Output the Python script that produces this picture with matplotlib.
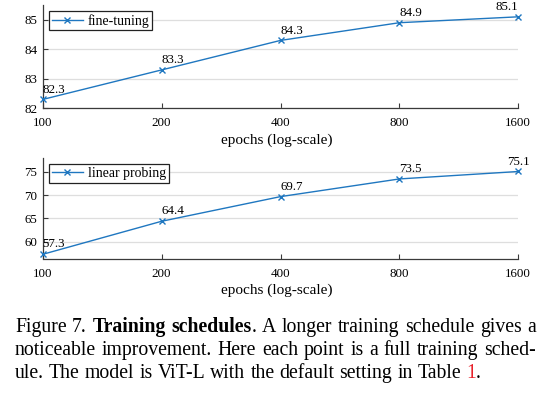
import matplotlib
matplotlib.use("Agg")
import matplotlib.pyplot as plt

plt.rcParams['font.family'] = ['Liberation Serif', 'DejaVu Serif']
plt.rcParams['mathtext.fontset'] = 'stix'

epochs = [100, 200, 400, 800, 1600]
epoch_labels = ["100", "200", "400", "800", "1600"]
fine_tuning = [82.3, 83.3, 84.3, 84.9, 85.1]
linear_probing = [57.3, 64.4, 69.7, 73.5, 75.1]
ft_yticks = [82, 83, 84, 85]
lp_yticks = [60, 65, 70, 75]
ft_label_ha = ["left", "left", "left", "left", "right"]
lp_label_ha = ["left", "left", "left", "left", "center"]

LINE = '#1f77c0'
AXC = '#3a3a3a'
GRID = '#dedede'
FS = 9.4

W, H = 541, 397
fig = plt.figure(figsize=(W / 100, H / 100), dpi=100)
ax1 = fig.add_axes([42.7 / W, 1 - 108.3 / H, (518.3 - 42.7) / W, (108.3 - 5) / H])
ax2 = fig.add_axes([42.7 / W, 1 - 258.5 / H, (518.3 - 42.7) / W, (258.5 - 158) / H])


def style(ax, y, yt, ylim, label, has):
    ax.plot(epochs, y, color=LINE, lw=1.0, marker='x', ms=3.8, mew=1.0,
            label=label, clip_on=False, zorder=3)
    ax.set_xscale('log')
    ax.set_xlim(100, 1600)
    ax.set_ylim(*ylim)
    ax.set_xticks(epochs)
    ax.set_xticklabels(epoch_labels)
    ax.xaxis.set_minor_locator(matplotlib.ticker.NullLocator())
    ax.set_yticks(yt)
    ax.set_yticklabels([str(v) for v in yt])
    ax.tick_params(direction='in', length=3.5, width=0.8, color=AXC,
                   labelsize=FS, labelcolor='black')
    ax.tick_params(axis='x', pad=6.5)
    ax.tick_params(axis='y', pad=4.0)
    for s in ['top', 'right']:
        ax.spines[s].set_visible(False)
    for s in ['left', 'bottom']:
        ax.spines[s].set_color(AXC)
        ax.spines[s].set_linewidth(0.9)
    ax.yaxis.grid(True, color=GRID, lw=0.9)
    ax.set_axisbelow(True)
    ax.set_xlabel('epochs (log-scale)', fontsize=11, labelpad=3)
    ax.xaxis.label.set_x(0.492)
    for xv, yv, ha in zip(epochs, y, has):
        ax.annotate(f"{yv:.1f}", (xv, yv), xytext=(0, 2.8),
                    textcoords='offset points', ha=ha, va='bottom',
                    fontsize=FS, annotation_clip=False, zorder=4)
    leg = ax.legend(loc='upper left', fontsize=9.9, frameon=True, fancybox=False,
                    edgecolor='#222222', framealpha=1, borderaxespad=0.45,
                    handlelength=2.25, handletextpad=0.38, borderpad=0.2)
    leg.get_frame().set_linewidth(0.9)


style(ax1, fine_tuning, ft_yticks, (82, 85.5), 'fine-tuning', ft_label_ha)
style(ax2, linear_probing, lp_yticks, (56.4, 78.0), 'linear probing', lp_label_ha)

# caption (justified)
CFS = 14.2
lines = [
    [[("Figure", "normal", "black")], [("7.", "normal", "black")],
     [("Training", "bold", "black")], [("schedules", "bold", "black"), (".", "normal", "black")],
     [("A", "normal", "black")], [("longer", "normal", "black")], [("training", "normal", "black")],
     [("schedule", "normal", "black")], [("gives", "normal", "black")], [("a", "normal", "black")]],
    [[(w, "normal", "black")] for w in "noticeable improvement. Here each point is a full training sched-".split()],
    [[(w, "normal", "black")] for w in "ule. The model is ViT-L with the default setting in".split()]
    + [[("Table", "normal", "black")], [("1", "normal", "#e8202a"), (".", "normal", "black")]],
]
baselines = [331.7, 355.0, 378.0]
x_left, x_right = 15.0, 536.0

renderer = fig.canvas.get_renderer()


def measure(s, weight):
    t = fig.text(0, 0, s, fontsize=CFS, fontweight=weight)
    bb = t.get_window_extent(renderer)
    t.remove()
    return bb.width


space_nat = measure("a a", "normal") - 2 * measure("a", "normal")
for li, (words, yb) in enumerate(zip(lines, baselines)):
    widths = [[measure(s, wt) for s, wt, c in word] for word in words]
    total = sum(sum(w) for w in widths)
    if li < len(lines) - 1:
        gap = (x_right - x_left - total) / (len(words) - 1)
    else:
        gap = space_nat
    x = x_left
    for word, ws in zip(words, widths):
        for (s, wt, c), w in zip(word, ws):
            fig.text(x / W, 1 - yb / H, s, fontsize=CFS, fontweight=wt, color=c,
                     ha='left', va='baseline')
            x += w
        x += gap

fig.savefig('out.png', dpi=100)
